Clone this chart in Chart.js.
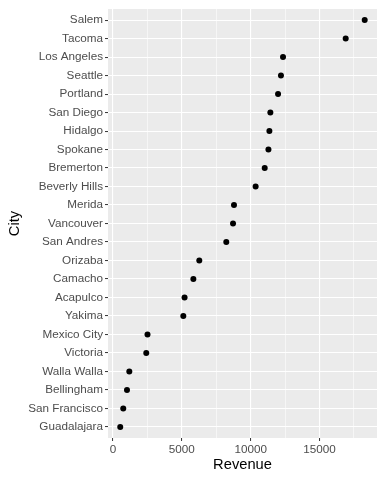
<!DOCTYPE html>
<html><head><meta charset="utf-8">
<script src="https://cdn.jsdelivr.net/npm/chart.js@4/dist/chart.umd.min.js"></script>
<style>html,body{margin:0;padding:0;background:#fff}</style>
</head><body>
<canvas id="c" width="384" height="480" style="width:384px;height:480px;display:block"></canvas>
<script>
const cities = ["Salem","Tacoma","Los Angeles","Seattle","Portland","San Diego","Hidalgo","Spokane","Bremerton","Beverly Hills","Merida","Vancouver","San Andres","Orizaba","Camacho","Acapulco","Yakima","Mexico City","Victoria","Walla Walla","Bellingham","San Francisco","Guadalajara"];
const revenue = [18280,16900,12350,12200,11990,11430,11360,11290,11020,10360,8790,8720,8230,6270,5840,5200,5110,2510,2420,1190,1020,750,530];
const xMajorTicks = [0,5000,10000,15000];
const xMinorTicks = [2500,7500,12500,17500];
const xLimits = [-358, 19173];
const yLimits = [-0.6, cities.length - 0.4];

const FONT = "'Liberation Sans', Arial, Helvetica, sans-serif";
const panelBg = {
  id: 'panelBg',
  beforeDraw(chart) {
    const {ctx, chartArea: a} = chart;
    ctx.save();
    ctx.fillStyle = '#EBEBEB';
    ctx.fillRect(a.left, a.top, a.right - a.left, a.bottom - a.top);
    ctx.restore();
  }
};
const isMajor = v => xMajorTicks.includes(v);

new Chart(document.getElementById('c'), {
  type: 'scatter',
  data: {
    datasets: [{
      data: revenue.map((v, i) => ({x: v, y: i})),
      pointRadius: 3,
      pointHoverRadius: 3,
      backgroundColor: '#000',
      borderWidth: 0
    }]
  },
  options: {
    responsive: false,
    animation: false,
    layout: {padding: {left: 0, right: 7, top: 7, bottom: 0}},
    plugins: {legend: {display: false}, tooltip: {enabled: false}},
    scales: {
      x: {
        type: 'linear',
        min: xLimits[0], max: xLimits[1],
        afterBuildTicks: s => { s.ticks = [...xMajorTicks, ...xMinorTicks].sort((a,b)=>a-b).map(v => ({value: v})); },
        afterFit: s => { s.height = 42; },
        border: {display: false},
        grid: {
          color: '#FFFFFF',
          lineWidth: ctx => (ctx.tick && isMajor(ctx.tick.value)) ? 1.1 : 0.55,
          tickColor: ctx => (ctx.tick && isMajor(ctx.tick.value)) ? '#333333' : 'rgba(0,0,0,0)',
          tickLength: 3,
          tickWidth: 1
        },
        ticks: {
          callback: v => isMajor(v) ? String(v) : '',
          color: '#4D4D4D',
          font: {family: FONT, size: 11.7},
          padding: 2,
          maxRotation: 0,
          autoSkip: false
        },
        title: {display: true, text: 'Revenue', color: '#000', font: {family: FONT, size: 14.7}, padding: {top: 0, bottom: 6}}
      },
      y: {
        type: 'linear',
        reverse: true,
        min: yLimits[0], max: yLimits[1],
        afterBuildTicks: s => { s.ticks = cities.map((c, i) => ({value: i})); },
        afterFit: s => { s.width = 108; },
        border: {display: false},
        grid: {color: '#FFFFFF', lineWidth: 1.1, tickColor: '#333333', tickLength: 3, tickWidth: 1},
        ticks: {
          callback: v => cities[v],
          color: '#4D4D4D',
          font: {family: FONT, size: 11.7},
          padding: 2,
          autoSkip: false
        },
        title: {display: true, text: 'City', color: '#000', font: {family: FONT, size: 14.7}, padding: {top: 6, bottom: 0}}
      }
    }
  },
  plugins: [panelBg]
});
</script>
</body></html>
